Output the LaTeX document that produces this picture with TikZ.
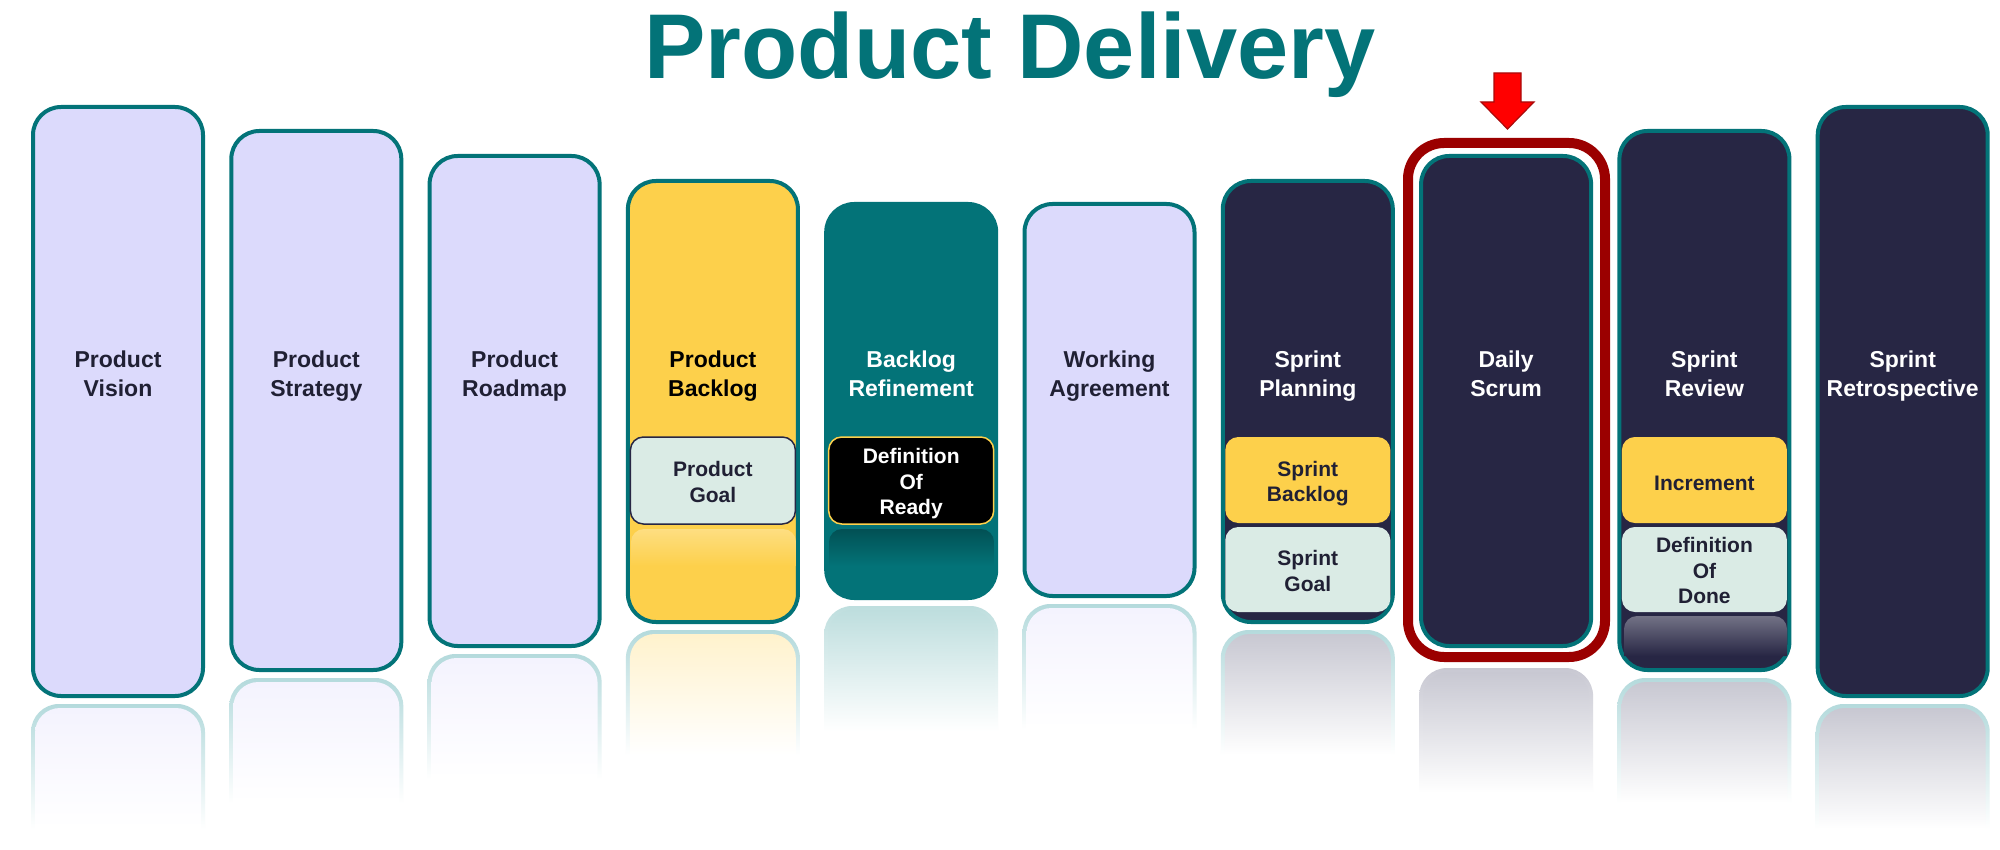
\documentclass[tikz,border=0pt]{standalone}
\usepackage{fontspec}
\setmainfont{Liberation Sans}
\usetikzlibrary{calc}
\definecolor{tealA}{RGB}{3,115,120}
\definecolor{lav}{RGB}{220,218,252}
\definecolor{yel}{RGB}{253,208,75}
\definecolor{navy}{RGB}{39,38,68}
\definecolor{mint}{RGB}{218,235,229}
\definecolor{hlred}{RGB}{155,0,0}
\definecolor{arrowedge}{RGB}{170,10,10}
\definecolor{txtdark}{RGB}{32,32,52}
\definecolor{reflEdge}{RGB}{180,218,220}
\definecolor{reflLav}{RGB}{244,243,254}
\definecolor{reflYel}{RGB}{255,242,205}
\definecolor{reflTeal}{RGB}{190,222,222}
\definecolor{reflNavy}{RGB}{200,200,210}
\newcommand{\mkrefl}[4]{%
  \shade[top color=#3, bottom color=white] (#1-87,#2+125) {[rounded corners=28pt] -- (#1-87,#2) -- (#1+87,#2)} -- (#1+87,#2+125) -- cycle;
  \shade[top color=#4, bottom color=white] (#1-83,#2+125) {[rounded corners=25pt] -- (#1-83,#2+4) -- (#1+83,#2+4)} -- (#1+83,#2+125) -- cycle;
}
\tikzset{
  col/.style={draw=tealA, line width=4pt, rounded corners=28pt, minimum width=170pt, inner sep=0pt},
  lbl/.style={font=\fontsize{23}{29}\selectfont\bfseries, align=center, inner sep=0pt,
    execute at begin node=\strut, execute at end node=\strut},
  sub/.style={rounded corners=13pt, minimum width=165pt, inner sep=0pt,
    font=\fontsize{21}{25.5}\selectfont\bfseries, align=center, text=txtdark},
  subtxt/.style={font=\fontsize{21}{25.5}\selectfont\bfseries, align=center, inner sep=0pt,
    execute at begin node=\strut, execute at end node=\strut},
}
\begin{document}
\begin{tikzpicture}[x=1pt,y=-1pt]
\useasboundingbox (0,0) rectangle (2000,850);
\fill[white] (0,0) rectangle (2000,850);

% reflections
\mkrefl{118}{704}{reflEdge}{reflLav}
\mkrefl{316.3}{678}{reflEdge}{reflLav}
\mkrefl{514.6}{654}{reflEdge}{reflLav}
\mkrefl{712.9}{630}{reflEdge}{reflYel}
\mkrefl{911.2}{606}{reflTeal}{reflTeal}
\mkrefl{1109.5}{604}{reflEdge}{reflLav}
\mkrefl{1307.8}{630}{reflEdge}{reflNavy}
\mkrefl{1506.1}{668}{reflNavy}{reflNavy}
\mkrefl{1704.4}{678}{reflEdge}{reflNavy}
\mkrefl{1902.7}{704}{reflEdge}{reflNavy}

% title
\node[font=\fontsize{92}{100}\selectfont\bfseries, text=tealA, anchor=base] (title) at (1010,79) {Product Delivery};

% columns
\node[col, fill=lav,  minimum height=589pt] (c1)  at (118,401.5) {};
\node[col, fill=lav,  minimum height=539pt] (c2)  at (316.3,400.5) {};
\node[col, fill=lav,  minimum height=490pt] (c3)  at (514.6,401) {};
\node[col, fill=yel,  minimum height=441pt] (c4)  at (712.9,401.5) {};
\node[col, fill=tealA,minimum height=394pt] (c5)  at (911.2,401) {};
\node[col, fill=lav,  minimum height=392pt] (c6)  at (1109.5,400) {};
\node[col, fill=navy, minimum height=441pt] (c7)  at (1307.8,401.5) {};
\node[col, fill=navy, minimum height=490pt] (c8)  at (1506.1,401) {};
\node[col, fill=navy, minimum height=539pt] (c9)  at (1704.4,400.5) {};
\node[col, fill=navy, minimum height=589pt] (c10) at (1902.7,401.5) {};

% inner reflections below sub boxes
\shade[top color=yel!70!white, bottom color=yel] (631,566) {[rounded corners=13pt] -- (631,529) -- (796,529)} -- (796,566) -- cycle;
\shade[top color=tealA!70!black, bottom color=tealA] (829,566) {[rounded corners=13pt] -- (829,529) -- (994,529)} -- (994,566) -- cycle;
\shade[top color=navy!65!white, bottom color=navy] (1624,656) {[rounded corners=13pt] -- (1624,616) -- (1787,616)} -- (1787,656) -- cycle;

% sub boxes
\node[sub, fill=mint, draw=navy, line width=1.5pt, minimum height=87pt] (pg) at (712.9,480.5) {};
\node[sub, fill=black, draw=yel, line width=1.5pt, minimum height=87pt] (dor) at (911.2,480.5) {};
\node[sub, fill=yel, minimum height=86pt] (sb) at (1307.8,480) {};
\node[sub, fill=mint, minimum height=85pt] (sg) at (1307.8,569.5) {};
\node[sub, fill=yel, minimum height=86pt] (inc) at (1704.4,480) {};
\node[sub, fill=mint, minimum height=85pt] (dod) at (1704.4,569.5) {};

\node[subtxt, text=txtdark] (pgt) at ([yshift=-5pt]pg.center) {Product\\Goal};
\node[subtxt, text=white] (dort) at ([yshift=-5pt]dor.center) {Definition\\Of\\Ready};
\node[subtxt, text=txtdark] (sbt) at ([yshift=-5pt]sb.center) {Sprint\\Backlog};
\node[subtxt, text=txtdark] (sgt) at ([yshift=-5pt]sg.center) {Sprint\\Goal};
\node[subtxt, text=txtdark] (inct) at ([yshift=-5pt]inc.center) {Increment};
\node[subtxt, text=txtdark] (dodt) at ([yshift=-5pt]dod.center) {Definition\\Of\\Done};

% labels
\node[lbl, text=txtdark] (t1) at (118,378) {Product\\Vision};
\node[lbl, text=txtdark] (t2) at (316.3,378) {Product\\Strategy};
\node[lbl, text=txtdark] (t3) at (514.6,378) {Product\\Roadmap};
\node[lbl, text=black]   (t4) at (712.9,378) {Product\\Backlog};
\node[lbl, text=white]   (t5) at (911.2,378) {Backlog\\Refinement};
\node[lbl, text=txtdark] (t6) at (1109.5,378) {Working\\Agreement};
\node[lbl, text=white]   (t7) at (1307.8,378) {Sprint\\Planning};
\node[lbl, text=white]   (t8) at (1506.1,378) {Daily\\Scrum};
\node[lbl, text=white]   (t9) at (1704.4,378) {Sprint\\Review};
\node[lbl, text=white]   (t10) at (1902.7,378) {Sprint\\Retrospective};

% highlight frame
\node[draw=hlred, line width=10pt, rounded corners=36pt, minimum width=197pt, minimum height=514pt, inner sep=0pt] (hl) at (1506.5,400) {};

% red arrow
\draw[draw=arrowedge, fill=red, line width=1.2pt, line join=miter]
  (1494,73) -- (1521,73) -- (1521,102) -- (1534,102) -- (1507.5,129) -- (1481,102) -- (1494,102) -- cycle;
\end{tikzpicture}
\end{document}
